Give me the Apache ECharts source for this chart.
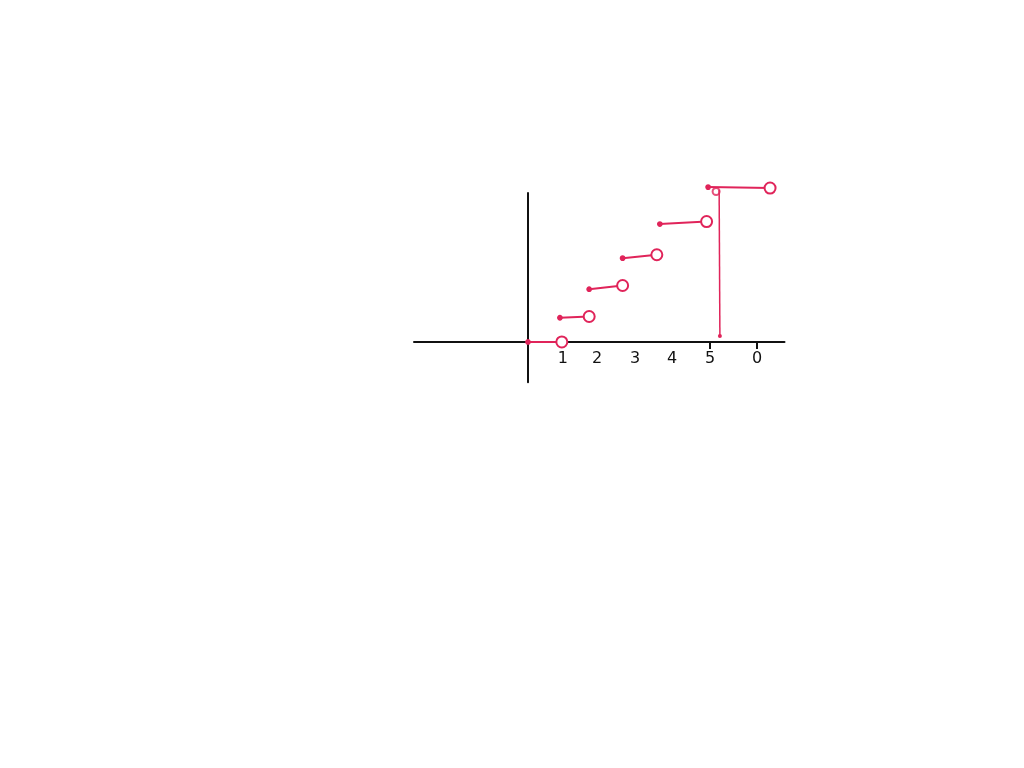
<!DOCTYPE html>
<html>
<head>
<meta charset="utf-8">
<script src="https://cdn.jsdelivr.net/npm/echarts@6/dist/echarts.min.js"></script>
<style>html,body{margin:0;padding:0;background:#fff;}#c{width:1024px;height:768px;}</style>
</head>
<body>
<div id="c"></div>
<script>
// Tick label positions (as drawn) and their texts
var tickPositions = [0.92, 1.82, 2.82, 3.79, 4.79, 6.03];
var tickLabels = ['1', '2', '3', '4', '5', '0'];
var tickMarks = [4.79, 6.03];

// Step segments: start x, end x, start y, end y
var segStartX = [0.00, 0.84, 1.61, 2.49, 3.47, 4.74];
var segEndX   = [0.89, 1.61, 2.49, 3.39, 4.70, 6.37];
var segStartY = [0.00, 0.78, 1.70, 2.70, 3.80, 4.99];
var segEndY   = [0.00, 0.82, 1.82, 2.81, 3.88, 4.96];

// Extra small open circle near the top-left of last step
var extraCircle = [4.95, 4.85];
// Vertical line down to the axis with a dot at bottom
var vertX = [5.03, 5.05];
var vertY = [4.90, 0.19];

var RED = '#e0245a';

var stepData = [];
for (var i = 0; i < segStartX.length; i++) {
  stepData.push({value: [segStartX[i], segStartY[i]], symbol: 'circle', symbolSize: 4});
  stepData.push({value: [segEndX[i], segEndY[i]], symbol: 'emptyCircle', symbolSize: 11});
  if (i < segStartX.length - 1) stepData.push('-');
}

var chart = echarts.init(document.getElementById('c'));
chart.setOption({
  animation: false,
  backgroundColor: '#fff',
  grid: {left: 414, right: 239.5, top: 193, bottom: 385.7, containLabel: false},
  xAxis: {
    type: 'value', min: -3, max: 6.75,
    axisLine: {onZero: true, lineStyle: {color: '#111', width: 2}},
    axisTick: {show: true, customValues: tickMarks, length: 7, lineStyle: {color: '#111', width: 2}},
    axisLabel: {
      show: true, customValues: tickPositions, margin: -31,
      color: '#111', fontFamily: 'DejaVu Sans', fontSize: 16,
      formatter: function (v) {
        var k = tickPositions.indexOf(v);
        return k >= 0 ? tickLabels[k] : '';
      }
    },
    splitLine: {show: false}
  },
  yAxis: {
    type: 'value', min: -1.3, max: 4.8,
    axisLine: {show: true, onZero: true, lineStyle: {color: '#111', width: 2}},
    axisTick: {show: false},
    axisLabel: {show: false},
    splitLine: {show: false}
  },
  series: [
    {
      type: 'line', clip: false, connectNulls: false,
      data: stepData,
      lineStyle: {color: RED, width: 2},
      itemStyle: {color: RED, borderColor: RED, borderWidth: 1.8}
    },
    {
      type: 'scatter', clip: false,
      data: [extraCircle],
      symbol: 'emptyCircle', symbolSize: 7,
      itemStyle: {color: RED, borderColor: RED, borderWidth: 1.5}
    },
    {
      type: 'line', clip: false,
      data: [
        {value: [vertX[0], vertY[0]], symbol: 'none'},
        {value: [vertX[1], vertY[1]], symbol: 'circle', symbolSize: 4}
      ],
      lineStyle: {color: RED, width: 1.5},
      itemStyle: {color: RED}
    }
  ]
});
</script>
</body>
</html>
